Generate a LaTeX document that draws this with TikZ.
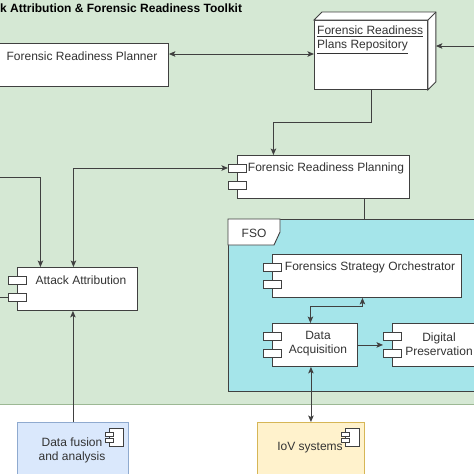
\documentclass[tikz,border=0pt]{standalone}
\usepackage{fontspec}
\setmainfont{Liberation Sans}
\usetikzlibrary{arrows.meta}

\definecolor{bggreen}{HTML}{D5E8D4}
\definecolor{greenedge}{HTML}{9CB894}
\definecolor{fsocyan}{HTML}{A5E5EA}
\definecolor{dfblue}{HTML}{DAE8FC}
\definecolor{dfedge}{HTML}{8FAACF}
\definecolor{iovyellow}{HTML}{FFF2CC}
\definecolor{iovedge}{HTML}{D6B656}

% two ports on the left side of a component box
\newcommand{\ports}[1]{%
  \draw[port] ([shift={(-9pt,-9pt)}]#1.north west) rectangle ++(18,8);
  \draw[port] ([shift={(-9pt,-26pt)}]#1.north west) rectangle ++(18,8);}
% small component icon in the top right corner
\newcommand{\compicon}[1]{%
  \draw[port] ([shift={(-20pt,-6pt)}]#1.north east) rectangle ++(14,18);
  \draw[port] ([shift={(-24pt,-10pt)}]#1.north east) rectangle ++(8,4);
  \draw[port] ([shift={(-24pt,-16pt)}]#1.north east) rectangle ++(8,4);}

\begin{document}
\begin{tikzpicture}[x=1pt, y=-1pt,
    every node/.style={font=\fontsize{12}{14}\selectfont, text=black!80, inner sep=0pt},
    box/.style={draw=black!75, line width=0.9pt, fill=white, anchor=north west},
    port/.style={draw=black!75, line width=0.8pt, fill=white},
    wire/.style={draw=black!75, line width=0.9pt},
    arr/.tip={Stealth[length=6.5pt, width=5.5pt, inset=1.5pt]}]

    \useasboundingbox (0,0) rectangle (474,474);
    \clip (0,0) rectangle (474,474);

    % background
    \draw [fill=bggreen, draw=greenedge, line width=0.8pt] (-5,-5) rectangle (480,404);

    % title
    \node (title) at (0,8) [anchor=west, text=black, font=\bfseries\fontsize{12}{14}\selectfont] {k Attribution \& Forensic Readiness Toolkit};

    % boxes
    \node (planner) at (-6,43) [box, minimum width=174pt, minimum height=43pt] {};
    \node (repo) at (314,20) [box, minimum width=113pt, minimum height=69pt] {};
    \draw [wire, fill=white] (repo.north west) -- ++(8,-8) -- ([shift={(8pt,8pt)}]repo.north east)
        -- ([shift={(8pt,8pt)}]repo.south east) -- (repo.south east) -- (repo.north east) -- cycle;
    \draw [wire] (repo.north east) -- ++(8,-8);
    \node (frp) at (237,155) [box, minimum width=172pt, minimum height=43pt] {};
    \node (aa) at (17,267) [box, minimum width=120pt, minimum height=43pt] {};

    % FSO frame
    \node (fso) at (228,219) [box, fill=fsocyan, minimum width=260pt, minimum height=172pt] {};
    \draw [wire, fill=white] (fso.north west) -- ++(52,0) -- ++(0,13) -- ++(-6,13) -- ++(-46,0) -- cycle;
    \node (orch) at (272,254) [box, minimum width=189pt, minimum height=43pt] {};
    \node (da) at (272,323) [box, minimum width=85pt, minimum height=43pt] {};
    \node (dp) at (392,323) [box, minimum width=100pt, minimum height=43pt] {};

    % outside blocks
    \node (df) at (17,422) [box, fill=dfblue, draw=dfedge, minimum width=111pt, minimum height=60pt] {};
    \node (iov) at (257,422) [box, fill=iovyellow, draw=iovedge, minimum width=107pt, minimum height=60pt] {};

    % ports and icons
    \ports{frp}
    \ports{aa}
    \ports{orch}
    \ports{da}
    \ports{dp}
    \compicon{df}
    \compicon{iov}

    % box labels
    \node (planner-t) at (82,56) {Forensic Readiness Planner};
    \node (repo-t) at (317,26) [anchor=north west, align=left] {\underline{Forensic Readiness}\\\underline{Plans Repository}};
    \node (frp-t) at (326,168) {Forensic Readiness Planning};
    \node (aa-t) at (81,280) {Attack Attribution};
    \node (fso-t) at (254,233) {FSO};
    \node (orch-t) at (370,267) {Forensics Strategy Orchestrator};
    \node (da-t) at (318,344) [align=center] {Data\\Acquisition};
    \node (dp-t) at (439,344) [align=center] {Digital\\Preservation};
    \node (df-t) at (72,450) [align=center] {Data fusion\\and analysis};
    \node (iov-t) at (310,448) {IoV systems};

    % connectors
    \coordinate (east-in) at (480,46);
    \coordinate (west-in) at (-5,177);
    \coordinate (west-in2) at (-5,297);
    \coordinate (repo-back) at ([xshift=8pt]repo.east);
    \coordinate (frp-s) at ([xshift=41pt]frp.south);
    \draw [wire, arr-arr] (planner.east |- 0,54) -- (repo.west |- 0,54);
    \draw [wire, -arr] (east-in) -- (repo-back |- east-in);
    \draw [wire, -arr] (repo.south) -- ++(0,33) -| ([xshift=-50pt]frp.north);
    \draw [wire, arr-arr] ([xshift=-4pt]aa.north) |- ([shift={(-9pt,-13pt)}]frp.north west);
    \draw [wire, -arr] (west-in) -| ([xshift=-37pt]aa.north);
    \draw [wire] (west-in2) -- ([shift={(-9pt,-30pt)}]aa.north west);
    \draw [wire, -arr] (df.north) -- (df.north |- aa.south);
    \draw [wire] (frp-s) -- (frp-s |- fso.north);
    \draw [wire, arr-arr] ([xshift=-4.5pt]orch.south) -- ++(0,9) -| ([xshift=-4.5pt]da.north);
    \draw [wire, -arr] (da.east) -- ([xshift=-9pt]dp.west);
    \draw [wire, arr-arr] (iov.north) -- (iov.north |- da.south);

\end{tikzpicture}
\end{document}
